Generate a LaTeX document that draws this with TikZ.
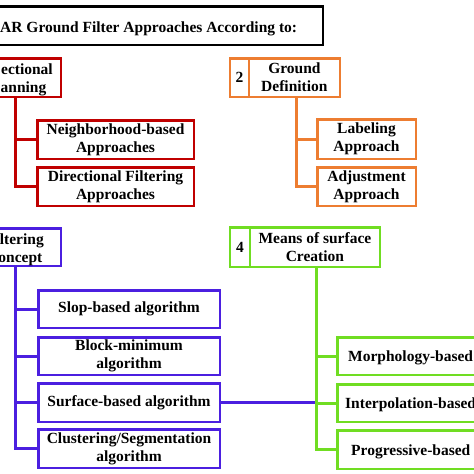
\documentclass[tikz,border=0pt]{standalone}
\usepackage{fontspec}
\setmainfont{Liberation Serif}
\definecolor{cred}{HTML}{C00000}
\definecolor{corange}{HTML}{ED7D31}
\definecolor{cblue}{HTML}{4B1FE0}
\definecolor{cgreen}{HTML}{70DD22}
\begin{document}
\begin{tikzpicture}[x=1pt,y=-1pt,
  txt/.style={font=\fontsize{15.5}{18}\selectfont\bfseries, align=center, inner sep=0pt},
  box/.style={draw, line width=2.5pt, fill=white, inner sep=0pt, align=center,
    font=\fontsize{15.5}{18}\selectfont\bfseries},
  trunk/.style={line width=3pt}]
\useasboundingbox (0,0) rectangle (474,474);
\clip (0,0) rectangle (474,474);
\fill[white] (0,0) rectangle (474,474);

% title
\node[box, draw=black, minimum width=342.5, minimum height=38.5] (title) at (151.5,25.5) {};
\node[txt, anchor=base west] (titletext) at (0,32) {AR Ground Filter Approaches According to:};

% 1 red
\coordinate (rtop) at (15,98);
\draw[trunk, cred] (rtop) |- (36,186.5) coordinate (rend);
\node[box, draw=cred, minimum width=79.5, minimum height=38.5] (r1) at (21,77.5) {};
\node[txt, anchor=base east] (r1a) at (53,74.5) {ectional};
\node[txt, anchor=base east] (r1b) at (46.5,92) {anning};
\node[box, draw=cred, minimum width=156.5, minimum height=38.5] (nb) at (115.5,139.5) {Neighborhood-based\\Approaches};
\node[box, draw=cred, minimum width=156.5, minimum height=38.5] (df) at (115.5,186.5) {Directional Filtering\\Approaches};
\draw[trunk, cred] (rtop |- nb.west) -- (nb.west);

% 2 orange
\coordinate (otop) at (296,98);
\draw[trunk, corange] (otop) |- (316,186.5);
\node[box, draw=corange, minimum width=18.75, minimum height=38.5] (o2n) at (239.6,77.5) {2};
\node[box, draw=corange, minimum width=90.75, minimum height=38.5] (o2) at (294.4,77.5) {Ground\\Definition};
\node[box, draw=corange, minimum width=98.5, minimum height=39.5] (lab) at (366.5,139) {Labeling\\Approach};
\node[box, draw=corange, minimum width=98.5, minimum height=38.5] (adj) at (366.5,186.5) {Adjustment\\Approach};
\draw[trunk, corange] (otop |- lab.west) -- (lab.west);

% 3 blue
\coordinate (btop) at (15,267);
\node[box, draw=cblue, minimum width=79.5, minimum height=37.5] (b3) at (21,247) {};
\node[txt, anchor=base east] (b3a) at (44,244) {ltering};
\node[txt, anchor=base east] (b3b) at (42.5,262) {oncept};
\node[box, draw=cblue, minimum width=181.5, minimum height=37.5] (slop) at (129,309) {Slop-based algorithm};
\node[box, draw=cblue, minimum width=181.5, minimum height=37.5] (block) at (129,356) {Block-minimum\\algorithm};
\node[box, draw=cblue, minimum width=181.5, minimum height=38.5] (surf) at (129,402.5) {Surface-based algorithm};
\node[box, draw=cblue, minimum width=181.5, minimum height=38.5] (clus) at (129,448.5) {Clustering/Segmentation\\algorithm};
\draw[trunk, cblue] (btop) |- (clus.west);
\draw[trunk, cblue] (btop |- slop.west) -- (slop.west);
\draw[trunk, cblue] (btop |- block.west) -- (block.west);
\draw[trunk, cblue] (btop |- surf.west) -- (surf.west);

% 4 green
\coordinate (gtop) at (316,268);
\node[box, draw=cgreen, minimum width=19.75, minimum height=39.5] (g4n) at (240.1,247) {4};
\node[box, draw=cgreen, minimum width=129.75, minimum height=39.5] (g4) at (314.9,247) {Means of surface\\Creation};
\node[box, draw=cgreen, minimum width=200, minimum height=37.5] (morph) at (437.25,356) {};
\node[box, draw=cgreen, minimum width=200, minimum height=37.5] (interp) at (437.25,403) {};
\node[box, draw=cgreen, minimum width=200, minimum height=38.5] (prog) at (437.25,449.5) {};
\node[txt, anchor=base west] (morpht) at (348,361) {Morphology-based};
\node[txt, anchor=base west] (interpt) at (345,408) {Interpolation-based};
\node[txt, anchor=base west] (progt) at (351,455) {Progressive-based};
\draw[trunk, cblue] (surf.east) -- (gtop |- surf.east);
\draw[trunk, cgreen] (gtop) |- (prog.west);
\draw[trunk, cgreen] (gtop |- morph.west) -- (morph.west);
\draw[trunk, cgreen] (gtop |- interp.west) -- (interp.west);
\end{tikzpicture}
\end{document}
